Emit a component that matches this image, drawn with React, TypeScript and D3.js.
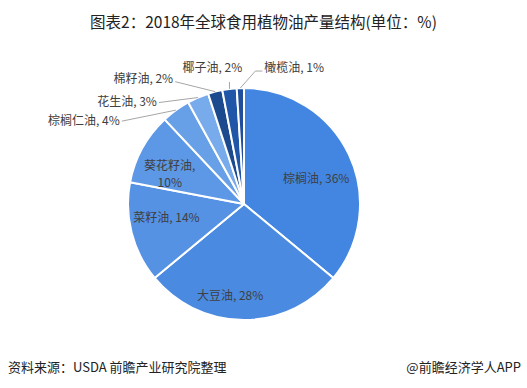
import React from 'react';
import * as d3 from 'd3';

// 2018年全球食用植物油产量结构 (%)
const oils = ['棕榈油', '大豆油', '菜籽油', '葵花籽油', '棕榈仁油', '花生油', '棉籽油', '椰子油', '橄榄油'];
const shares = [36, 28, 14, 10, 4, 3, 2, 2, 1];
const colors = ['#4286e2', '#4a8be1', '#5592e4', '#5c98e6', '#68a0e8', '#78abeb', '#1c4a8f', '#1f56a8', '#1f4f9c'];

const W = 527;
const H = 388;
const cx = 244;
const cy = 204;
const R = 116;
const FONT = '"Noto Sans CJK SC", "Noto Sans", sans-serif';

// inside labels: [radius factor, angle nudge in rad]; outside: leader polyline offsets + text anchor
const inside: Record<string, { k: number; da: number; twoLine?: boolean }> = {
  '棕榈油': { k: 0.66, da: 0.1 },
  '大豆油': { k: 0.8, da: 0.15 },
  '菜籽油': { k: 0.68, da: 0.07 },
  '葵花籽油': { k: 0.69, da: -0.12, twoLine: true },
};
const outside: Record<string, { pts: [number, number][]; tx: number; ty: number; anchor: string }> = {
  '棕榈仁油': { pts: [[-54, 11]], tx: -56, ty: 11, anchor: 'end' },
  '花生油': { pts: [[-39, 5]], tx: -41, ty: 4, anchor: 'end' },
  '棉籽油': { pts: [[-40, -10]], tx: -42, ty: -13, anchor: 'end' },
  '椰子油': { pts: [[0, -7]], tx: -17, ty: -21, anchor: 'middle' },
  '橄榄油': { pts: [[15, -17], [22, -17]], tx: 24, ty: -20, anchor: 'start' },
};

const App: React.FC = () => {
  const data = oils.map((name, i) => ({ name, value: shares[i], color: colors[i] }));
  const pie = d3.pie<{ name: string; value: number; color: string }>()
    .sort(null)
    .value((d) => d.value)
    .startAngle(0)
    .endAngle(2 * Math.PI);
  const arcs = pie(data);
  const arc = d3.arc<d3.PieArcDatum<any>>().innerRadius(0).outerRadius(R);

  const polar = (a: number, r: number): [number, number] => [Math.sin(a) * r, -Math.cos(a) * r];

  return (
    <svg width={W} height={H} style={{ position: 'absolute', left: 0, top: 0, background: '#fff' }} fontFamily={FONT}>
      <text x={W / 2} y={28} textAnchor="middle" fontSize={15.5} fill="#222">
        图表2：2018年全球食用植物油产量结构(单位：%)
      </text>

      <g transform={`translate(${cx},${cy})`}>
        {arcs.map((a) => (
          <path key={a.data.name} d={arc(a) || ''} fill={a.data.color} stroke="#fff" strokeWidth={2} strokeLinejoin="round" />
        ))}

        {arcs.map((a) => {
          const mid = (a.startAngle + a.endAngle) / 2;
          const lab = `${a.data.name}, ${a.data.value}%`;
          const ins = inside[a.data.name];
          if (ins) {
            const [x, y] = polar(mid + ins.da, R * ins.k);
            if (ins.twoLine) {
              return (
                <text key={lab} x={x} y={y} textAnchor="middle" fontSize={12} fill="#404040">
                  <tspan x={x} dy={-4}>{`${a.data.name},`}</tspan>
                  <tspan x={x} dy={17}>{`${a.data.value}%`}</tspan>
                </text>
              );
            }
            return (
              <text key={lab} x={x} y={y} dy="0.35em" textAnchor="middle" fontSize={12} fill="#404040">
                {lab}
              </text>
            );
          }
          const o = outside[a.data.name];
          const [px, py] = polar(mid, R);
          const line = [[px, py], ...o.pts.map(([dx, dy]) => [px + dx, py + dy])] as [number, number][];
          return (
            <g key={lab}>
              <path d={d3.line()(line) || ''} fill="none" stroke="#a6a6a6" strokeWidth={1} />
              <text x={px + o.tx} y={py + o.ty} dy="0.35em" textAnchor={o.anchor} fontSize={12} fill="#404040">
                {lab}
              </text>
            </g>
          );
        })}
      </g>

      <text x={8} y={372} fontSize={13} fill="#222">
        资料来源：USDA 前瞻产业研究院整理
      </text>
      <text x={521} y={372} textAnchor="end" fontSize={13} fill="#222">
        @前瞻经济学人APP
      </text>
    </svg>
  );
};

export default App;
